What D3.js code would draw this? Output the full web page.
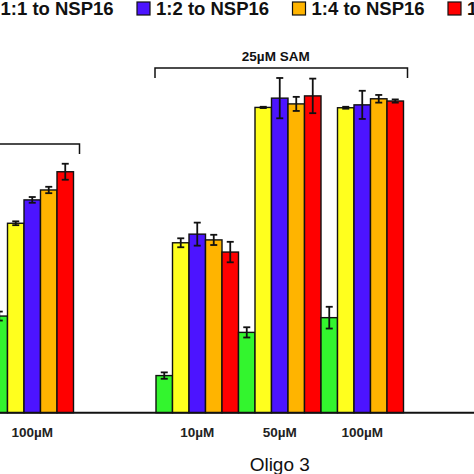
<!DOCTYPE html>
<html>
<head>
<meta charset="utf-8">
<script src="https://cdn.jsdelivr.net/npm/d3@7"></script>
<style>
  body { margin: 0; background: #fff; }
  svg { display: block; }
  text { font-family: "Liberation Sans", Arial, sans-serif; }
</style>
</head>
<body>
<div class="chart"></div>
<script>
// slots along the x axis (one empty slot between oligo blocks)
const slots = ["O2 10µM", "O2 50µM", "O2 100µM", "gap", "O3 10µM", "O3 50µM", "O3 100µM", "gap2"];
const seriesNames = ["No NSP10", "1:1 to NSP16", "1:2 to NSP16", "1:4 to NSP16", "1:8 to NSP16"];
const seriesColors = ["#33f52e", "#ffff1e", "#4c14ff", "#ffb400", "#ff0000"];

// visible groups only
const groups = ["O2 100µM", "O3 10µM", "O3 50µM", "O3 100µM"];
const groupLabels = ["100µM", "10µM", "50µM", "100µM"];
const values = [
  [30.2, 59.2, 66.5, 69.6, 75.3],
  [11.6, 53.1, 55.8, 54.0, 50.2],
  [25.1, 95.4, 98.3, 96.5, 99.0],
  [29.7, 95.3, 96.2, 98.1, 97.4]
];
const errors = [
  [1.4, 0.6, 0.9, 1.0, 2.5],
  [1.0, 1.4, 3.6, 1.6, 3.2],
  [1.6, 0.2, 6.3, 2.2, 5.4],
  [3.4, 0.3, 4.4, 1.2, 0.5]
];
const oligoName = "Oligo 3";
const oligoCenter = "O3 50µM";
const samLabel = "25µM SAM";

const width = 474, height = 474;
const svg = d3.select(".chart").append("svg")
  .attr("width", width).attr("height", height);

const x = d3.scaleBand().domain(slots).range([-174, 486]).padding(0);
const x1 = d3.scaleBand().domain(seriesNames).range([0, x.bandwidth()]).padding(0);
const y = d3.scaleLinear().domain([0, 100]).range([412.7, 92.7]);

// bars
groups.forEach((g, gi) => {
  const grp = svg.append("g").attr("transform", `translate(${x(g)},0)`);
  grp.selectAll("rect")
    .data(values[gi])
    .enter()
    .append("rect")
    .attr("x", (d, i) => x1(seriesNames[i]))
    .attr("width", x1.bandwidth())
    .attr("y", (d) => y(d))
    .attr("height", (d) => y(0) - y(d))
    .attr("fill", (d, i) => seriesColors[i])
    .attr("stroke", "#111")
    .attr("stroke-width", 1.4);

  // error bars
  const eb = grp.selectAll("g.err")
    .data(values[gi])
    .enter()
    .append("g")
    .attr("class", "err")
    .attr("stroke", "#111")
    .attr("stroke-width", 1.8);
  const cx = (i) => x1(seriesNames[i]) + x1.bandwidth() / 2;
  eb.append("line")
    .attr("x1", (d, i) => cx(i)).attr("x2", (d, i) => cx(i))
    .attr("y1", (d, i) => y(d + errors[gi][i]))
    .attr("y2", (d, i) => y(d - errors[gi][i]));
  eb.append("line")
    .attr("x1", (d, i) => cx(i) - 3.5).attr("x2", (d, i) => cx(i) + 3.5)
    .attr("y1", (d, i) => y(d + errors[gi][i]))
    .attr("y2", (d, i) => y(d + errors[gi][i]));
  eb.append("line")
    .attr("x1", (d, i) => cx(i) - 3.5).attr("x2", (d, i) => cx(i) + 3.5)
    .attr("y1", (d, i) => y(d - errors[gi][i]))
    .attr("y2", (d, i) => y(d - errors[gi][i]));
});

// x axis line
svg.append("line")
  .attr("x1", 0).attr("x2", width)
  .attr("y1", y(0)).attr("y2", y(0))
  .attr("stroke", "#111").attr("stroke-width", 2);

// group labels
svg.selectAll("text.glabel")
  .data(groups)
  .enter()
  .append("text")
  .attr("class", "glabel")
  .attr("x", (d) => x(d) + x.bandwidth() / 2)
  .attr("y", 437)
  .attr("text-anchor", "middle")
  .attr("font-size", "13.5px")
  .attr("font-weight", "bold")
  .attr("fill", "#222")
  .text((d, i) => groupLabels[i]);

svg.append("text")
  .attr("x", x(oligoCenter) + x.bandwidth() / 2)
  .attr("y", 471)
  .attr("text-anchor", "middle")
  .attr("font-size", "19px")
  .attr("fill", "#111")
  .text(oligoName);

// brackets
const bracket = (x0, x1b, yb) => {
  svg.append("path")
    .attr("d", `M${x0},${yb + 10}V${yb}H${x1b}V${yb + 10}`)
    .attr("fill", "none")
    .attr("stroke", "#111")
    .attr("stroke-width", 1.5);
};
bracket(x("O3 10µM") - 1, x("O3 100µM") + x.bandwidth() + 4, 68);
bracket(x("O2 10µM") - 4, x("O2 100µM") + x.bandwidth() + 6, 144);

svg.append("text")
  .attr("x", x(oligoCenter) + x.bandwidth() / 2 - 4)
  .attr("y", 61)
  .attr("text-anchor", "middle")
  .attr("font-size", "13.5px")
  .attr("font-weight", "bold")
  .attr("fill", "#111")
  .text(samLabel);

// legend
const legend = svg.selectAll("g.leg")
  .data(seriesNames)
  .enter()
  .append("g")
  .attr("class", "leg")
  .attr("transform", (d, i) => `translate(${-174 + 155.5 * i},0)`);
legend.append("rect")
  .attr("x", 0).attr("y", 2)
  .attr("width", 13).attr("height", 13)
  .attr("fill", (d, i) => seriesColors[i])
  .attr("stroke", "#111")
  .attr("stroke-width", 1.2);
legend.append("text")
  .attr("x", 19).attr("y", 15)
  .attr("font-size", "18.5px")
  .attr("font-weight", "bold")
  .attr("fill", "#111")
  .text((d) => d);
</script>
</body>
</html>
